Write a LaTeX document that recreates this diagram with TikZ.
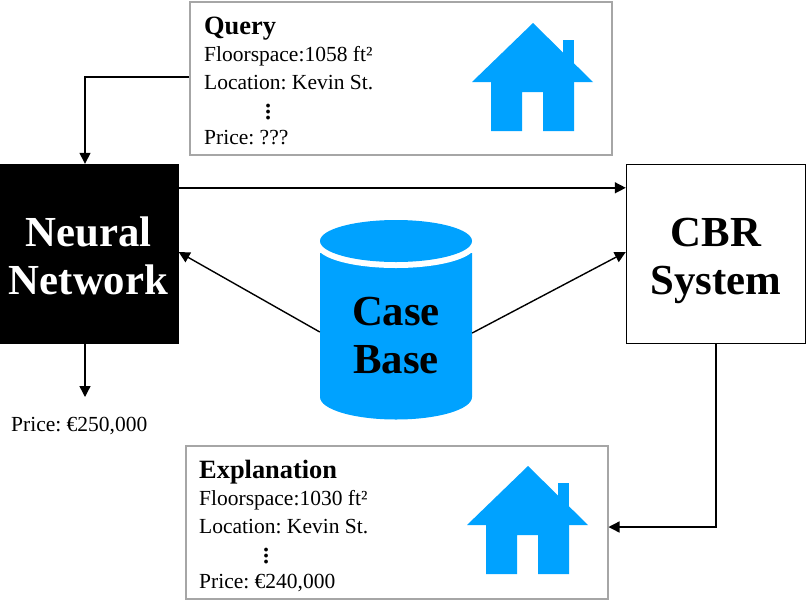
\documentclass[tikz,border=0pt]{standalone}
\usepackage{fontspec}
\setmainfont{Liberation Serif}
\usepackage{tikz}
\usetikzlibrary{shapes, arrows.meta, positioning}
\definecolor{caseColor}{HTML}{00A2FF}
\definecolor{frameColor}{HTML}{A6A6A6}
\frenchspacing
\tikzstyle{arrow} = [line width=1.4pt, -{Triangle[length=11pt,width=11pt]}]
\newcommand{\moredots}[1]{\hspace*{#1}\smash{\raisebox{-3pt}{\scalebox{1.5}{$\vdots$}}}}
\newcommand{\topgap}{\rule{0pt}{47pt}}
\tikzset{
  house/.pic={
    \fill[caseColor] (0,0) -- (60,59) -- (-61,59) -- cycle;
    \fill[caseColor] (30,17) rectangle (41,59);
    \fill[caseColor] (-42,59) -- (41,59) -- (41,108) -- (10,108) -- (10,69) -- (-11,69) -- (-11,108) -- (-42,108) -- cycle;
  }
}

\begin{document}
\begin{tikzpicture}[
    x=1pt, y=-1pt,
    info/.style={draw=frameColor, line width=2pt, rectangle, minimum width=422pt, minimum height=153pt, inner sep=0pt, fill=white},
    body/.style={align=left, inner sep=0pt, font=\fontsize{21.5}{27.5}\selectfont},
    title/.style={font=\bfseries\fontsize{26.4}{30}\selectfont},
    block/.style={draw=black, line width=1.4pt, rectangle, minimum width=179pt, minimum height=179pt, align=center, inner sep=0pt, font=\bfseries\fontsize{42.8}{48}\selectfont}
]
\useasboundingbox (0,0) rectangle (811,603);

% Boxes
\node[info] (query) at (401,78.5) {};
\node[info] (expl) at (396.5,522) {};
\node[block, fill=black, text=white] (nn) at (88.5,254) {\topgap Neural\strut\\Network\strut};
\node[block, fill=white] (cbr) at (716,254) {\topgap CBR\strut\\System\strut};

% Case base
\fill[caseColor] (320,253) -- (320,397) arc[x radius=76, y radius=22.5, start angle=180, end angle=0] -- (472,253) -- cycle;
\fill[white] (396,246) ellipse[x radius=79, y radius=22];
\fill[caseColor] (396,241) ellipse[x radius=76, y radius=21];
\node[minimum width=152pt, inner sep=0pt, align=center, font=\bfseries\fontsize{42.8}{48}\selectfont] (base) at (396,336) {Case\\Base};

% Query text
\node[title, anchor=base west, inner sep=0pt] (qtitle) at (204,34) {Query};
\node[body, anchor=north west] (qtext) at (204,46.5) {Floorspace:1058 ft²\\Location: Kevin St.\\\moredots{60pt}\\Price: ???};

% Explanation text
\node[title, anchor=base west, inner sep=0pt] (etitle) at (199,478) {Explanation};
\node[body, anchor=north west] (etext) at (199,490.5) {Floorspace:1030 ft²\\Location: Kevin St.\\\moredots{63pt}\\Price: €240,000};

% Houses
\pic (qhouse) at (533,23) {house};
\pic (ehouse) at (528,466) {house};

% Result
\node[anchor=base west, inner sep=0pt, font=\fontsize{21.5}{27}\selectfont] (price) at (11,431) {Price: €250,000};
\coordinate (pricetop) at (85,397);

% Draw lines
\draw[arrow] ([yshift=1.5pt]query.west) -| ([xshift=-3.5pt]nn.north);
\draw[arrow] ([yshift=-24pt]nn.north east) -- ([yshift=-24pt]cbr.north west);
\draw[arrow] (base.west |- 0,332) -- (nn.east |- 0,252);
\draw[arrow] (base.east |- 0,333) -- (cbr.west |- 0,252);
\draw[arrow] ([xshift=-3.5pt]nn.south) -- (pricetop);
\draw[arrow] (cbr.south) |- ([yshift=-5pt]expl.east);
\end{tikzpicture}
\end{document}
